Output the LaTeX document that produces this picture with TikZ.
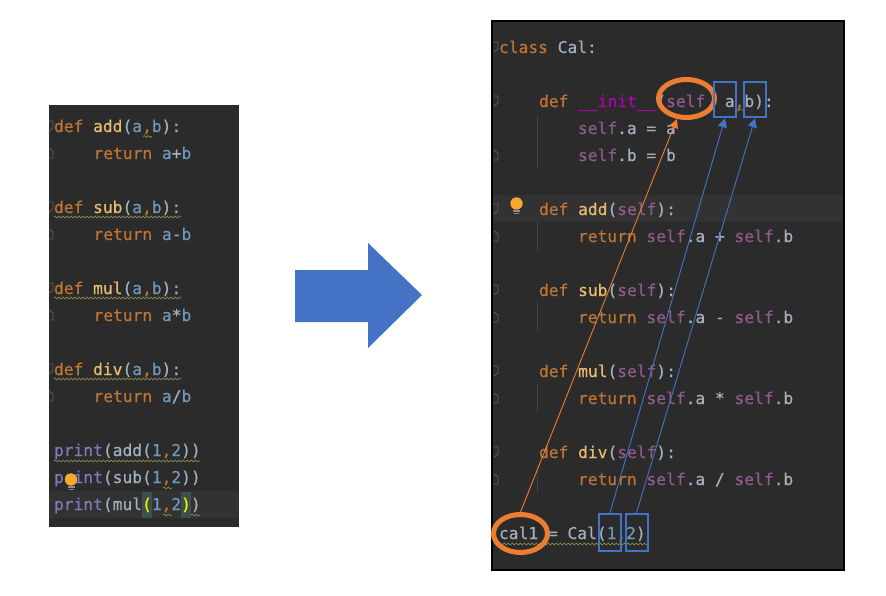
\documentclass[tikz,border=0pt]{standalone}
\usepackage{fontspec}
\setmonofont[FakeBold=0.35]{DejaVu Sans Mono}
\usetikzlibrary{arrows.meta}
\usetikzlibrary{shapes.geometric}
\usetikzlibrary{decorations.pathmorphing}
\definecolor{panelcol}{HTML}{2B2B2B}
\definecolor{linecol}{HTML}{323232}
\definecolor{kwcol}{HTML}{BE7434}
\definecolor{fncol}{HTML}{E8BC70}
\definecolor{argcol}{HTML}{7297B8}
\definecolor{plaincol}{HTML}{A3B1BF}
\definecolor{slfcol}{HTML}{8F5A8C}
\definecolor{bicol}{HTML}{7C7CBC}
\definecolor{magcol}{HTML}{B000B0}
\definecolor{orgcol}{HTML}{ED7D31}
\definecolor{blucol}{HTML}{4472C4}
\definecolor{wavecol}{HTML}{8C8C55}
\definecolor{matchcol}{HTML}{3B514D}
\definecolor{bulbcol}{HTML}{F4A92F}
\definecolor{foldcol}{HTML}{5F5F5F}
\definecolor{guidecol}{HTML}{434343}
\newcommand{\kw}[1]{\textcolor{kwcol}{#1}}
\newcommand{\fnc}[1]{\textcolor{fncol}{#1}}
\newcommand{\prm}[1]{\textcolor{argcol}{#1}}
\newcommand{\slf}[1]{\textcolor{slfcol}{#1}}
\newcommand{\bi}[1]{\textcolor{bicol}{#1}}
\tikzset{%
    code/.style={anchor=base west,inner sep=0pt,outer sep=0pt,text=plaincol,font=\ttfamily\fontsize{16.25}{16.25}\selectfont},
    ring/.style={ellipse,draw=orgcol,line width=5pt,inner sep=0pt},
    argbox/.style={rectangle,draw=blucol,line width=2pt,inner sep=0pt},
    guide/.style={guidecol,line width=0.8pt},
    wavy/.style={wavecol,line width=0.7pt,decorate,decoration={snake,amplitude=0.9pt,segment length=4pt}},
    linkorg/.style={orgcol,line width=0.9pt,-{Triangle[length=9pt,width=9pt]}},
    linkblu/.style={blucol,line width=0.9pt,-{Triangle[length=9pt,width=9pt]}},
    fold/.style={foldcol,line width=0.8pt},
    bulbbase/.style={gray!90,line width=1.3pt}
}
\begin{document}
\begin{tikzpicture}[x=1pt,y=-1pt]
        \fill[white] (0,0) rectangle (886,596);
        \useasboundingbox (0,0) rectangle (886,596);

        % left panel
        \fill[panelcol] (49,105) rectangle (239,527);
        \fill[linecol] (49,491) rectangle (239,518);
        \fill[matchcol] (142,492) rectangle (152,518);
        \fill[matchcol] (181,492) rectangle (191,518);

        \foreach \y in {126,207,288,369}{
            \draw[fold] (49,\y-5) -- (53,\y-5) -- (53,\y+2) -- (49,\y+5);
        }
        \foreach \y in {153,234,315,396}{
            \draw[fold] (49,\y+5) -- (53,\y+5) -- (53,\y-2) -- (49,\y-5);
        }

        \node[code] (add) at (54,132){\kw{def }\fnc{add}(\prm{a}\kw{,}\prm{b}):};
        \node[code] (addret) at (93.5,159){\kw{return }\prm{a}+\prm{b}};
        \node[code] (sub) at (54,213){\kw{def }\fnc{sub}(\prm{a}\kw{,}\prm{b}):};
        \node[code] (subret) at (93.5,240){\kw{return }\prm{a}-\prm{b}};
        \node[code] (mul) at (54,294){\kw{def }\fnc{mul}(\prm{a}\kw{,}\prm{b}):};
        \node[code] (mulret) at (93.5,321){\kw{return }\prm{a}*\prm{b}};
        \node[code] (div) at (54,375){\kw{def }\fnc{div}(\prm{a}\kw{,}\prm{b}):};
        \node[code] (divret) at (93.5,402){\kw{return }\prm{a}/\prm{b}};
        \node[code] (padd) at (54,456){\bi{print}(add(\prm{1}\kw{,}\prm{2}))};
        \node[code] (psub) at (54,483){\bi{print}(sub(\prm{1}\kw{,}\prm{2}))};
        \node[code] (pmul) at (54,510){\bi{print}(mul\textcolor{yellow}{(}\prm{1}\kw{,}\prm{2}\textcolor{yellow}{)})};

        \draw[wavy] (143,136.5) -- (152,136.5);
        \draw[wavy] (54,217) -- (181,217);
        \draw[wavy] (54,298) -- (181,298);
        \draw[wavy] (54,379) -- (181,379);
        \draw[wavy] (54,461) -- (200,461);
        \draw[wavy] (163,488) -- (172,488);
        \draw[wavy] (163,515) -- (172,515);
        \draw[wavy] (191,515) -- (200,515);

        \fill[bulbcol] (71,479.5) circle (6.2);
        \draw[bulbbase] (67.5,487) -- (74.5,487);
        \draw[bulbbase] (68.5,489.5) -- (73.5,489.5);

        % big arrow
        \fill[blucol] (295,270) -- (368,270) -- (368,243) -- (422,295) -- (368,348) -- (368,322) -- (295,322) -- cycle;

        % right panel
        \draw[panelcol,fill=panelcol] (492,21) rectangle (844,570);
        \fill[linecol] (493,195) rectangle (843,222);

        \foreach \y in {101,209,290,371,452}{
            \draw[fold] (492,\y-5) -- (498,\y-5) -- (498,\y+2) -- (494,\y+5);
        }
        \draw[fold] (492,42) -- (498,42) -- (498,49) -- (494,52);
        \foreach \y in {155,236,317,398,479}{
            \draw[fold] (492,\y+5) -- (498,\y+5) -- (498,\y-2) -- (494,\y-5);
        }
        \foreach \ya/\yb in {115/168,222/250,303/331,384/412,465/493}{
            \draw[guide] (537,\ya) -- (537,\yb);
        }

        \node[code] (cls) at (499,53){\kw{class }Cal:};
        \node[code] (init) at (539,107){\kw{def }\textcolor{magcol}{\_\_init\_\_}(\slf{self}\kw{,} a\kw{,}b):};
        \node[code] (seta) at (578,134){\slf{self}.a = a};
        \node[code] (setb) at (578,161){\slf{self}.b = b};
        \node[code] (radd) at (539,215){\kw{def }\fnc{add}(\slf{self}):};
        \node[code] (raddret) at (578,242){\kw{return }\slf{self}.a + \slf{self}.b};
        \node[code] (rsub) at (539,296){\kw{def }\fnc{sub}(\slf{self}):};
        \node[code] (rsubret) at (578,323){\kw{return }\slf{self}.a - \slf{self}.b};
        \node[code] (rmul) at (539,377){\kw{def }\fnc{mul}(\slf{self}):};
        \node[code] (rmulret) at (578,404){\kw{return }\slf{self}.a * \slf{self}.b};
        \node[code] (rdiv) at (539,458){\kw{def }\fnc{div}(\slf{self}):};
        \node[code] (rdivret) at (578,485){\kw{return }\slf{self}.a / \slf{self}.b};
        \node[code] (calone) at (499,539){cal1 = Cal(\prm{1}\kw{,}\prm{2})};

        \draw[wavy] (735,110) -- (743,110);
        \draw[wavy] (499,544) -- (648,544);

        \fill[bulbcol] (516.5,203.5) circle (6.2);
        \draw[bulbbase] (513,211) -- (520,211);
        \draw[bulbbase] (514,213.5) -- (519,213.5);

        \draw[black,line width=2pt] (492,21) rectangle (844,570);

        % rings and boxes
        \node[ring,minimum width=56pt,minimum height=38pt] (selfring) at (686.5,98.5){};
        \node[ring,minimum width=54pt,minimum height=38pt] (calring) at (520.5,533.5){};
        \node[argbox,minimum width=22pt,minimum height=35.5pt] (boxa) at (725,99.5){};
        \node[argbox,minimum width=22pt,minimum height=35.5pt] (boxb) at (755,99.5){};
        \node[argbox,minimum width=22pt,minimum height=37.5pt] (boxone) at (610,532.5){};
        \node[argbox,minimum width=22pt,minimum height=37.5pt] (boxtwo) at (636.5,532.5){};

        \draw[linkorg] (calring.north) -- (selfring.245);
        \draw[linkblu] (boxone.north) -- (boxa.south);
        \draw[linkblu] (boxtwo.north) -- (boxb.south);
    \end{tikzpicture}
\end{document}
